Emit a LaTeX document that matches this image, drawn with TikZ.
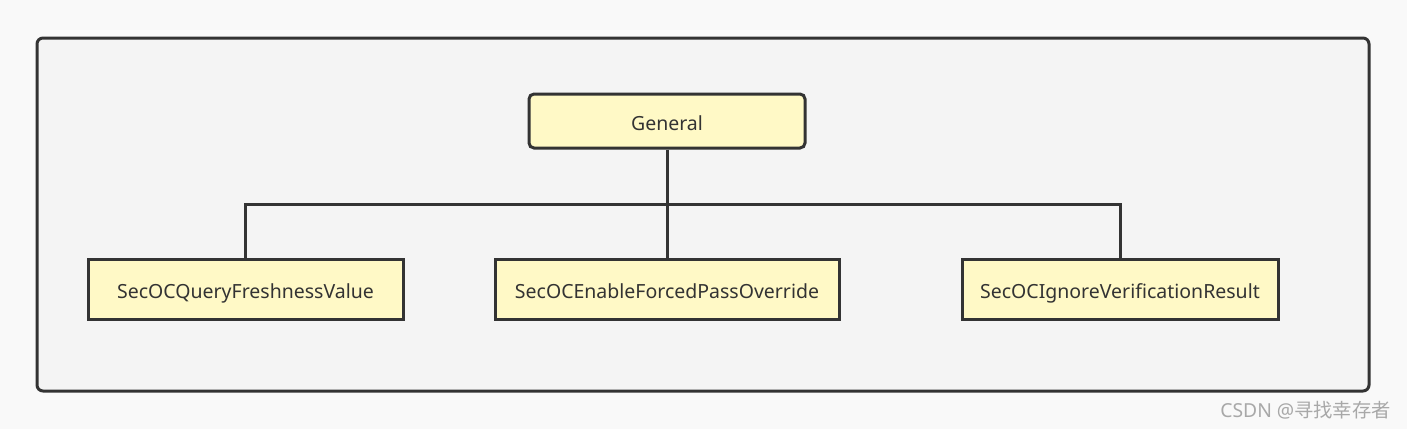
\documentclass[tikz,border=0pt]{standalone}
\usepackage{fontspec}
\setmainfont{Noto Sans}
\newfontfamily\cjk{Noto Sans CJK SC}
\definecolor{pagebg}{HTML}{F9F9F9}
\definecolor{framebg}{HTML}{F4F4F4}
\definecolor{boxfill}{HTML}{FFF9C6}
\definecolor{linec}{HTML}{333333}
\definecolor{wmark}{HTML}{A8A8A8}
\begin{document}
\begin{tikzpicture}[x=1pt,y=-1pt,
  boxtext/.style={font=\fontsize{19.5}{22}\selectfont,text=linec,text height=19.5pt,text depth=0pt},
  frame/.style={draw=linec,line width=3pt,fill=framebg,rounded corners=6pt},
  topbox/.style={boxtext,draw=linec,line width=3pt,fill=boxfill,rounded corners=5pt,minimum width=276pt,minimum height=54pt,inner sep=0pt},
  leaf/.style={boxtext,draw=linec,line width=3pt,fill=boxfill,minimum height=60pt,inner sep=0pt},
  conn/.style={draw=linec,line width=3pt}]
\fill[pagebg] (0,0) rectangle (1407,429);
\useasboundingbox (0,0) rectangle (1407,429);
\draw[frame] (37,38) rectangle (1369,391);
\node[topbox] (gen) at (667,121) {General};
\node[leaf,minimum width=315pt] (a) at (245.5,289) {SecOCQueryFreshnessValue};
\node[leaf,minimum width=344pt] (b) at (667,289) {SecOCEnableForcedPassOverride};
\node[leaf,minimum width=316pt] (c) at (1120,289) {SecOCIgnoreVerificationResult};
\coordinate (j) at (667,204);
\draw[conn] (gen.south) -- (b.north);
\draw[conn] (a.north) |- (j) -| (c.north);
\node[text=wmark,font=\fontsize{19.3}{22}\selectfont,anchor=east,inner sep=0pt] (wm) at (1391,410) {CSDN @{\cjk 寻找幸存者}};
\end{tikzpicture}
\end{document}
